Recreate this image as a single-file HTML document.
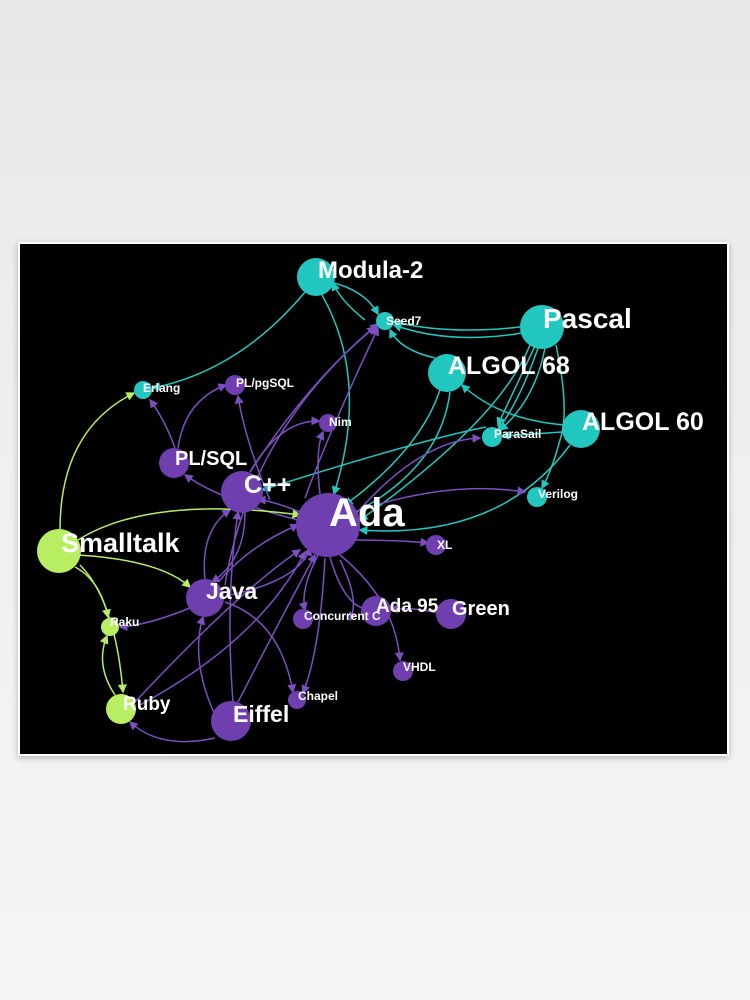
<!DOCTYPE html>
<html><head><meta charset="utf-8"><style>
html,body{margin:0;padding:0}
body{width:750px;height:1000px;background:linear-gradient(#e6e7e9 0%,#eeeff0 40%,#f4f4f5 100%);position:relative;overflow:hidden;font-family:"Liberation Sans",sans-serif}
#poster{position:absolute;left:18px;top:242px;width:711px;height:514px;background:#fff;box-shadow:0 2px 6px rgba(0,0,0,.25)}
svg{position:absolute;left:0;top:0}
text{fill:#fff;font-family:"Liberation Sans",sans-serif;font-weight:bold}
</style></head><body>
<div id="poster"></div>
<svg width="750" height="1000" viewBox="0 0 750 1000">
<defs>
<marker id="mp" markerWidth="6" markerHeight="6" refX="5" refY="3" orient="auto"><path d="M0,0L6,3L0,6z" fill="#7c4fc0"/></marker>
<marker id="mt" markerWidth="6" markerHeight="6" refX="5" refY="3" orient="auto"><path d="M0,0L6,3L0,6z" fill="#22c7c0"/></marker>
<marker id="mg" markerWidth="6" markerHeight="6" refX="5" refY="3" orient="auto"><path d="M0,0L6,3L0,6z" fill="#b8ef62"/></marker>
</defs>
<rect x="20" y="244" width="707" height="510" fill="#000"/>
<g fill="none" stroke-width="1.5">
<g stroke="#22c7c0" marker-end="url(#mt)">
<path d="M305,292 Q240,370 153,388"/>
<path d="M322,295 Q370,380 334,494"/>
<path d="M330,282 Q365,290 378,314"/>
<path d="M520,327 Q450,335 394,322"/>
<path d="M522,333 Q450,345 394,325"/>
<path d="M435,358 Q400,350 390,330"/>
<path d="M440,390 Q420,450 345,505"/>
<path d="M450,392 Q440,470 350,515"/>
<path d="M530,345 Q500,420 360,520"/>
<path d="M538,348 Q520,400 498,430"/>
<path d="M545,348 Q535,400 500,430"/>
<path d="M565,425 Q500,420 462,385"/>
<path d="M562,432 L502,436"/>
<path d="M570,445 Q500,540 360,530"/>
<path d="M556,345 Q570,410 560,440 Q552,470 542,488"/>
<path d="M535,346 Q500,420 498,425"/>
<path d="M486,427 Q420,440 262,490"/>
<path d="M365,320 Q340,300 333,283"/>
</g>
<g stroke="#7c4fc0" marker-end="url(#mp)">
<path d="M175,448 Q165,420 150,400"/>
<path d="M178,448 Q185,400 226,385"/>
<path d="M270,500 Q245,440 238,396"/>
<path d="M298,520 Q220,500 185,475"/>
<path d="M300,512 Q270,500 258,500"/>
<path d="M320,494 Q315,450 323,432"/>
<path d="M250,472 Q280,420 319,421"/>
<path d="M305,498 Q330,430 378,328"/>
<path d="M250,472 Q310,380 375,327"/>
<path d="M225,585 Q250,430 378,324"/>
<path d="M355,515 Q420,440 480,438"/>
<path d="M360,510 Q450,480 525,492"/>
<path d="M350,540 Q400,540 428,543"/>
<path d="M340,555 Q395,600 400,660"/>
<path d="M330,557 Q345,610 372,610"/>
<path d="M318,555 Q300,590 305,610"/>
<path d="M325,558 Q320,650 303,693"/>
<path d="M218,582 Q250,545 298,525"/>
<path d="M230,595 Q300,580 310,548"/>
<path d="M197,605 Q150,625 120,627"/>
<path d="M225,602 Q280,620 293,692"/>
<path d="M135,702 Q240,590 300,550"/>
<path d="M140,705 Q260,640 305,552"/>
<path d="M238,702 Q280,620 315,555"/>
<path d="M215,715 Q190,660 203,617"/>
<path d="M215,738 Q160,750 130,722"/>
<path d="M233,702 Q225,600 238,512"/>
<path d="M205,580 Q200,530 230,510"/>
<path d="M245,512 Q245,560 212,582"/>
<path d="M340,560 Q360,600 350,620"/>
<path d="M460,620 Q420,605 390,610"/>
</g>
<g stroke="#b8ef62" marker-end="url(#mg)">
<path d="M60,530 Q60,430 134,393"/>
<path d="M78,540 Q150,495 300,515"/>
<path d="M78,555 Q160,560 190,587"/>
<path d="M75,567 Q100,580 108,617"/>
<path d="M80,565 Q115,600 123,692"/>
<path d="M115,695 Q95,665 107,636"/>
</g>
</g>
<g fill="#22c7c0">
<circle cx="316" cy="277" r="19"/><circle cx="385" cy="321" r="9"/><circle cx="542" cy="327" r="22"/>
<circle cx="447" cy="373" r="19"/><circle cx="581" cy="429" r="19"/><circle cx="492" cy="437" r="10"/>
<circle cx="537" cy="497" r="10"/><circle cx="143" cy="390" r="9"/>
</g>
<g fill="#6f3fb0">
<circle cx="235" cy="385" r="10"/><circle cx="328" cy="423" r="9"/><circle cx="174" cy="463" r="15"/>
<circle cx="242" cy="492" r="21"/><circle cx="328" cy="525" r="32"/><circle cx="436" cy="545" r="10"/>
<circle cx="205" cy="598" r="19"/><circle cx="303" cy="619" r="10"/><circle cx="376" cy="611" r="15"/>
<circle cx="451" cy="614" r="15"/><circle cx="403" cy="671" r="10"/><circle cx="297" cy="700" r="9"/>
<circle cx="231" cy="721" r="20"/>
</g>
<g fill="#b8ef62">
<circle cx="59" cy="551" r="22"/><circle cx="110" cy="627" r="9"/><circle cx="121" cy="709" r="15"/>
</g>
<text x="318" y="278" font-size="24">Modula-2</text>
<text x="386" y="325" font-size="12" font-weight="normal">Seed7</text>
<text x="543" y="328" font-size="28">Pascal</text>
<text x="448" y="374" font-size="25">ALGOL 68</text>
<text x="582" y="430" font-size="25">ALGOL 60</text>
<text x="494" y="438" font-size="12" font-weight="normal">ParaSail</text>
<text x="538" y="498" font-size="12" font-weight="normal">Verilog</text>
<text x="143" y="392" font-size="12" font-weight="normal">Erlang</text>
<text x="236" y="387" font-size="12" font-weight="normal">PL/pgSQL</text>
<text x="329" y="426" font-size="12" font-weight="normal">Nim</text>
<text x="175" y="465" font-size="20">PL/SQL</text>
<text x="244" y="493" font-size="25">C++</text>
<text x="329" y="526" font-size="40">Ada</text>
<text x="61" y="552" font-size="27">Smalltalk</text>
<text x="437" y="549" font-size="12" font-weight="normal">XL</text>
<text x="206" y="599" font-size="23">Java</text>
<text x="110" y="626" font-size="12" font-weight="normal">Raku</text>
<text x="304" y="620" font-size="12" font-weight="normal">Concurrent C</text>
<text x="376" y="612" font-size="19">Ada 95</text>
<text x="452" y="615" font-size="20">Green</text>
<text x="403" y="671" font-size="12" font-weight="normal">VHDL</text>
<text x="298" y="700" font-size="12" font-weight="normal">Chapel</text>
<text x="123" y="710" font-size="19">Ruby</text>
<text x="233" y="722" font-size="23">Eiffel</text>
</svg>
</body></html>
